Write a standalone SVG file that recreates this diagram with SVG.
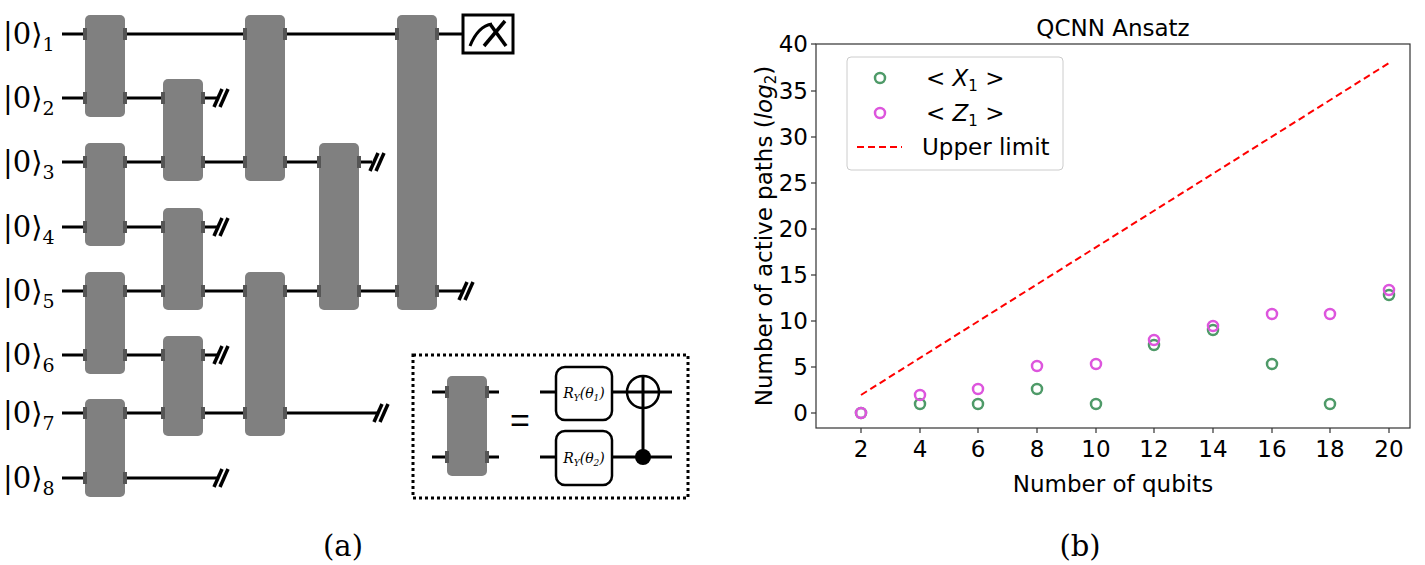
<svg xmlns="http://www.w3.org/2000/svg" width="1425" height="565" viewBox="0 0 1425 565">
<style>
.w{stroke:#000;stroke-width:3;fill:none}
.g{fill:#808080}
.t{fill:#555}
.lbl{font-family:"DejaVu Serif","Liberation Serif",serif;font-size:29px}
.sl{stroke:#000;stroke-width:3.5}
.ax{font-family:"DejaVu Sans","Liberation Sans",sans-serif;font-size:23px}
.cx{fill:none;stroke:#4e9a68;stroke-width:2.5}
.cz{fill:none;stroke:#dd55dd;stroke-width:2.5}
</style>
<defs>
<g id="slash"><line class="sl" x1="-6" y1="9" x2="2" y2="-9"/><line class="sl" x1="0" y1="9" x2="8" y2="-9"/></g>
</defs>
<rect width="1425" height="565" fill="#fff"/>
<g id="wires">
<line class="w" x1="62" y1="34" x2="463" y2="34"/>
<line class="w" x1="62" y1="98" x2="218" y2="98"/>
<line class="w" x1="62" y1="162" x2="372" y2="162"/>
<line class="w" x1="62" y1="227" x2="218" y2="227"/>
<line class="w" x1="62" y1="291" x2="462" y2="291"/>
<line class="w" x1="62" y1="355" x2="218" y2="355"/>
<line class="w" x1="62" y1="413" x2="378" y2="413"/>
<line class="w" x1="62" y1="478" x2="218" y2="478"/>
<use href="#slash" x="220" y="98"/><use href="#slash" x="220" y="227"/><use href="#slash" x="220" y="355"/><use href="#slash" x="220" y="478"/>
<use href="#slash" x="376" y="162"/><use href="#slash" x="380" y="413"/><use href="#slash" x="465" y="291"/>
</g>
<g id="labels" class="lbl">
<text x="3" y="44">|0⟩<tspan font-size="19" dy="7">1</tspan></text>
<text x="3" y="108">|0⟩<tspan font-size="19" dy="7">2</tspan></text>
<text x="3" y="172">|0⟩<tspan font-size="19" dy="7">3</tspan></text>
<text x="3" y="237">|0⟩<tspan font-size="19" dy="7">4</tspan></text>
<text x="3" y="301">|0⟩<tspan font-size="19" dy="7">5</tspan></text>
<text x="3" y="365">|0⟩<tspan font-size="19" dy="7">6</tspan></text>
<text x="3" y="423">|0⟩<tspan font-size="19" dy="7">7</tspan></text>
<text x="3" y="488">|0⟩<tspan font-size="19" dy="7">8</tspan></text>
</g>
<g id="gates">
<rect class="g" x="85" y="15" width="40" height="102" rx="5"/>
<rect class="g" x="85" y="143" width="40" height="103" rx="5"/>
<rect class="g" x="85" y="272" width="40" height="102" rx="5"/>
<rect class="g" x="85" y="399" width="40" height="98" rx="5"/>
<rect class="g" x="163" y="79" width="40" height="102" rx="5"/>
<rect class="g" x="163" y="208" width="40" height="102" rx="5"/>
<rect class="g" x="163" y="336" width="40" height="100" rx="5"/>
<rect class="g" x="245" y="15" width="40" height="166" rx="5"/>
<rect class="g" x="245" y="272" width="40" height="164" rx="5"/>
<rect class="g" x="319" y="143" width="40" height="167" rx="5"/>
<rect class="g" x="397" y="15" width="40" height="295" rx="5"/>
<g class="t">
<rect x="83" y="28" width="4" height="12"/><rect x="123" y="28" width="4" height="12"/><rect x="83" y="92" width="4" height="12"/><rect x="123" y="92" width="4" height="12"/>
<rect x="83" y="156" width="4" height="12"/><rect x="123" y="156" width="4" height="12"/><rect x="83" y="221" width="4" height="12"/><rect x="123" y="221" width="4" height="12"/>
<rect x="83" y="285" width="4" height="12"/><rect x="123" y="285" width="4" height="12"/><rect x="83" y="349" width="4" height="12"/><rect x="123" y="349" width="4" height="12"/>
<rect x="83" y="407" width="4" height="12"/><rect x="123" y="407" width="4" height="12"/><rect x="83" y="472" width="4" height="12"/><rect x="123" y="472" width="4" height="12"/>
<rect x="161" y="92" width="4" height="12"/><rect x="201" y="92" width="4" height="12"/><rect x="161" y="156" width="4" height="12"/><rect x="201" y="156" width="4" height="12"/>
<rect x="161" y="221" width="4" height="12"/><rect x="201" y="221" width="4" height="12"/><rect x="161" y="285" width="4" height="12"/><rect x="201" y="285" width="4" height="12"/>
<rect x="161" y="349" width="4" height="12"/><rect x="201" y="349" width="4" height="12"/><rect x="161" y="407" width="4" height="12"/><rect x="201" y="407" width="4" height="12"/>
<rect x="243" y="28" width="4" height="12"/><rect x="283" y="28" width="4" height="12"/><rect x="243" y="156" width="4" height="12"/><rect x="283" y="156" width="4" height="12"/>
<rect x="243" y="285" width="4" height="12"/><rect x="283" y="285" width="4" height="12"/><rect x="243" y="407" width="4" height="12"/><rect x="283" y="407" width="4" height="12"/>
<rect x="317" y="156" width="4" height="12"/><rect x="357" y="156" width="4" height="12"/><rect x="317" y="285" width="4" height="12"/><rect x="357" y="285" width="4" height="12"/>
<rect x="395" y="28" width="4" height="12"/><rect x="435" y="28" width="4" height="12"/><rect x="395" y="285" width="4" height="12"/><rect x="435" y="285" width="4" height="12"/>
</g>
</g>
<g id="measure">
<rect x="463" y="15" width="50" height="38" fill="#fff" stroke="#000" stroke-width="3"/>
<path d="M470 46 Q478 26 492 24" class="w"/>
<line class="sl" x1="490" y1="24" x2="506" y2="46"/>
<line class="sl" x1="484" y1="46" x2="505" y2="21"/>
</g>
<g id="inset">
<rect x="413" y="355" width="275" height="143" fill="none" stroke="#000" stroke-width="3" stroke-dasharray="3,3"/>
<line class="w" x1="432" y1="392" x2="499" y2="392"/><line class="w" x1="432" y1="457" x2="499" y2="457"/>
<rect class="g" x="447" y="376" width="40" height="100" rx="5"/>
<rect class="t" x="445" y="386" width="4" height="12"/><rect class="t" x="485" y="386" width="4" height="12"/>
<rect class="t" x="445" y="451" width="4" height="12"/><rect class="t" x="485" y="451" width="4" height="12"/>
<text x="510" y="432" font-family="Liberation Sans,sans-serif" font-size="34">=</text>
<line class="w" x1="540" y1="392" x2="672" y2="392"/><line class="w" x1="540" y1="457" x2="672" y2="457"/>
<rect x="556" y="367" width="56" height="53" rx="9" fill="#fff" stroke="#000" stroke-width="2.5"/>
<rect x="556" y="431" width="56" height="54" rx="9" fill="#fff" stroke="#000" stroke-width="2.5"/>
<text x="584" y="398" text-anchor="middle" font-family="DejaVu Serif,serif" font-style="italic" font-size="14">R<tspan font-size="9" dy="3">Y</tspan><tspan dy="-3">(θ</tspan><tspan font-size="9" dy="3">1</tspan><tspan dy="-3">)</tspan></text>
<text x="584" y="463" text-anchor="middle" font-family="DejaVu Serif,serif" font-style="italic" font-size="14">R<tspan font-size="9" dy="3">Y</tspan><tspan dy="-3">(θ</tspan><tspan font-size="9" dy="3">2</tspan><tspan dy="-3">)</tspan></text>
<circle cx="643" cy="392" r="16" fill="#fff" stroke="#000" stroke-width="2.5"/>
<line class="w" x1="643" y1="376" x2="643" y2="457"/><line class="w" x1="627" y1="392" x2="659" y2="392"/>
<circle cx="643" cy="457" r="8" fill="#000"/>
</g>
<text class="lbl" x="343" y="556" text-anchor="middle">(a)</text>
<text class="lbl" x="1080" y="556" text-anchor="middle">(b)</text>
<g id="plot">
<text class="ax" x="1113" y="36" text-anchor="middle">QCNN Ansatz</text>
<rect x="816" y="44" width="594" height="384" fill="none" stroke="#333" stroke-width="1.2"/>
<g stroke="#333" stroke-width="1.2">
<line x1="811" y1="413" x2="816" y2="413"/><line x1="811" y1="367" x2="816" y2="367"/><line x1="811" y1="321" x2="816" y2="321"/><line x1="811" y1="275" x2="816" y2="275"/><line x1="811" y1="229" x2="816" y2="229"/><line x1="811" y1="183" x2="816" y2="183"/><line x1="811" y1="137" x2="816" y2="137"/><line x1="811" y1="91" x2="816" y2="91"/><line x1="811" y1="44" x2="816" y2="44"/>
<line x1="861" y1="428" x2="861" y2="433"/><line x1="920" y1="428" x2="920" y2="433"/><line x1="978" y1="428" x2="978" y2="433"/><line x1="1037" y1="428" x2="1037" y2="433"/><line x1="1096" y1="428" x2="1096" y2="433"/><line x1="1154" y1="428" x2="1154" y2="433"/><line x1="1213" y1="428" x2="1213" y2="433"/><line x1="1272" y1="428" x2="1272" y2="433"/><line x1="1330" y1="428" x2="1330" y2="433"/><line x1="1389" y1="428" x2="1389" y2="433"/>
</g>
<g class="ax" text-anchor="end">
<text x="808" y="421">0</text><text x="808" y="375">5</text><text x="808" y="329">10</text><text x="808" y="283">15</text><text x="808" y="237">20</text><text x="808" y="191">25</text><text x="808" y="145">30</text><text x="808" y="99">35</text><text x="808" y="52">40</text>
</g>
<g class="ax" text-anchor="middle">
<text x="861" y="457">2</text><text x="920" y="457">4</text><text x="978" y="457">6</text><text x="1037" y="457">8</text><text x="1096" y="457">10</text><text x="1154" y="457">12</text><text x="1213" y="457">14</text><text x="1272" y="457">16</text><text x="1330" y="457">18</text><text x="1389" y="457">20</text>
</g>
<text class="ax" x="1113" y="492" text-anchor="middle">Number of qubits</text>
<text class="ax" transform="translate(772 236) rotate(-90)" text-anchor="middle">Number of active paths (<tspan font-style="italic">log</tspan><tspan font-size="15" dy="4">2</tspan><tspan dy="-4">)</tspan></text>
<line x1="861" y1="395" x2="1389" y2="63" stroke="#f00" stroke-width="2" stroke-dasharray="7,4"/>
<g class="cx">
<circle cx="861" cy="413" r="5"/><circle cx="920" cy="404" r="5"/><circle cx="978" cy="404" r="5"/><circle cx="1037" cy="389" r="5"/><circle cx="1096" cy="404" r="5"/><circle cx="1154" cy="345" r="5"/><circle cx="1213" cy="330" r="5"/><circle cx="1272" cy="364" r="5"/><circle cx="1330" cy="404" r="5"/><circle cx="1389" cy="295" r="5"/>
</g>
<g class="cz">
<circle cx="861" cy="413" r="5"/><circle cx="920" cy="395" r="5"/><circle cx="978" cy="389" r="5"/><circle cx="1037" cy="366" r="5"/><circle cx="1096" cy="364" r="5"/><circle cx="1154" cy="340" r="5"/><circle cx="1213" cy="326" r="5"/><circle cx="1272" cy="314" r="5"/><circle cx="1330" cy="314" r="5"/><circle cx="1389" cy="290" r="5"/>
</g>
<rect x="847" y="57" width="216" height="113" rx="4" fill="#fff" stroke="#ccc"/>
<circle class="cx" cx="880" cy="78" r="5"/>
<circle class="cz" cx="880" cy="113" r="5"/>
<line x1="857" y1="147" x2="902" y2="147" stroke="#f00" stroke-width="2" stroke-dasharray="7,4"/>
<text class="ax" x="926" y="86">&lt; <tspan font-style="italic">X</tspan><tspan font-size="15" dy="5">1</tspan><tspan dy="-5"> &gt;</tspan></text>
<text class="ax" x="926" y="121">&lt; <tspan font-style="italic">Z</tspan><tspan font-size="15" dy="5">1</tspan><tspan dy="-5"> &gt;</tspan></text>
<text class="ax" x="922" y="155">Upper limit</text>
</g>
</svg>
